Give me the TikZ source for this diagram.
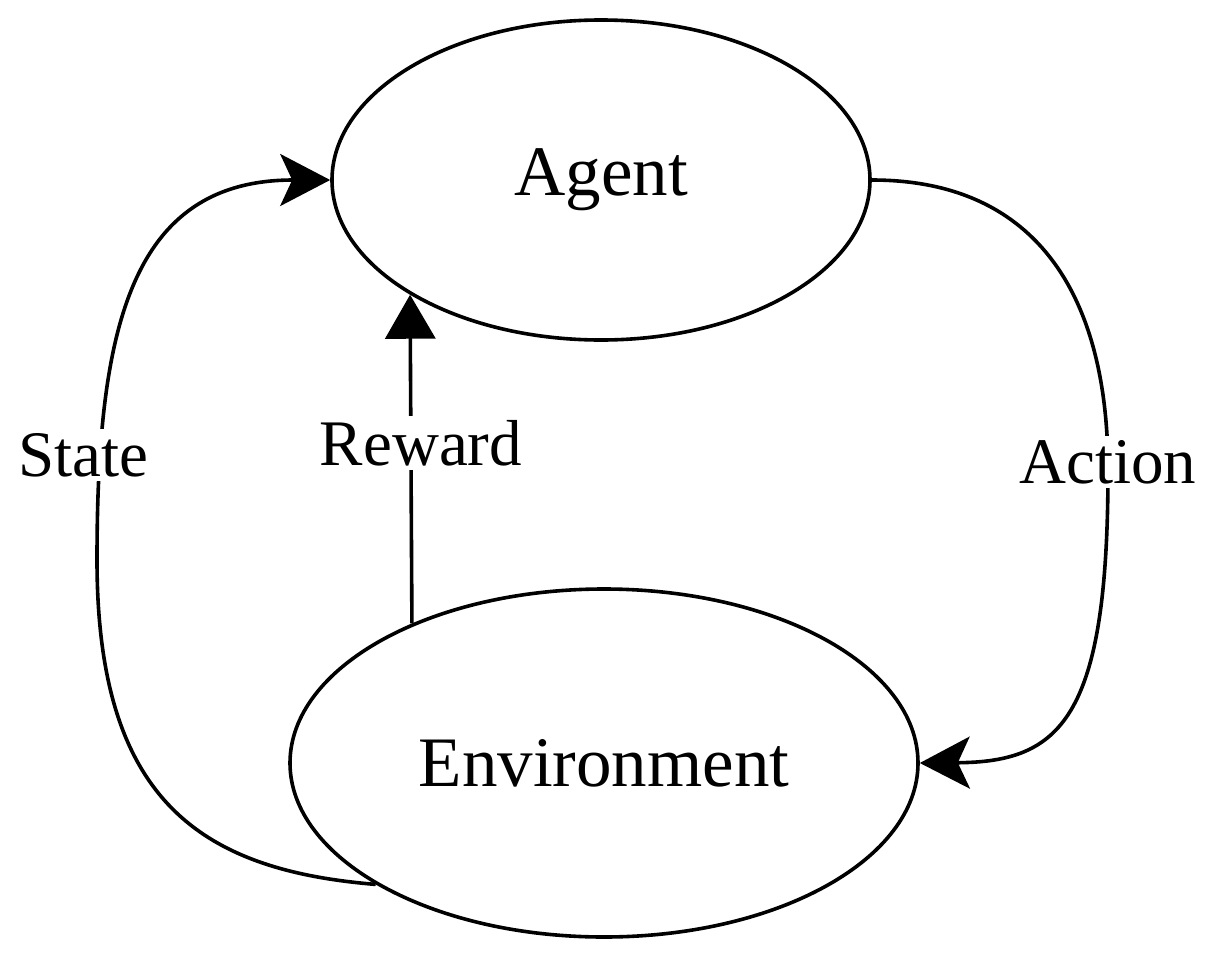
\documentclass[tikz,border=0pt]{standalone}
\usepackage{fontspec}
\setmainfont{Liberation Serif}
\usetikzlibrary{arrows.meta,positioning,shapes.geometric}
\tikzset{
  blob/.style={ellipse, draw, line width=1.8pt, inner sep=0pt, align=center,
    font=\fontsize{35.5}{40}\selectfont},
  flow/.style={-{Stealth[length=25pt, width=26pt, inset=6pt]}, line width=1.8pt},
  upflow/.style={-{Triangle[length=22pt, width=25pt]}, line width=1.8pt},
  edgetext/.style={fill=white, inner sep=2pt, font=\fontsize{32.5}{36}\selectfont}
}

\begin{document}
\begin{tikzpicture}[x=0.5pt, y=-0.5pt]
\useasboundingbox (0,0) rectangle (1217,964);
\node[blob, minimum width=269pt, minimum height=160pt] (agent) at (601,180) {Agent};
\node[blob, minimum width=314pt, minimum height=174pt] (env) at (604,763) {Environment};

% state: environment back to agent, round the left side
\draw[flow] (env.208.6) .. controls (200,870) and (97,800) .. (97,560)
  node[edgetext] (state) at (83,455) {State}
  .. controls (97,330) and (130,180) .. (agent.west);
% action: agent to environment, round the right side
\draw[flow] (agent.east) .. controls (1040,180) and (1108,300) .. (1108,470)
  .. controls (1108,720) and (1060,762) .. (env.east);
\node[edgetext] (action) at (1108,462) {Action};
% reward
\draw[upflow] (env.144.3) -- (agent.211.1);
\node[edgetext] (reward) at (421,443) {Reward};
\end{tikzpicture}
\end{document}
